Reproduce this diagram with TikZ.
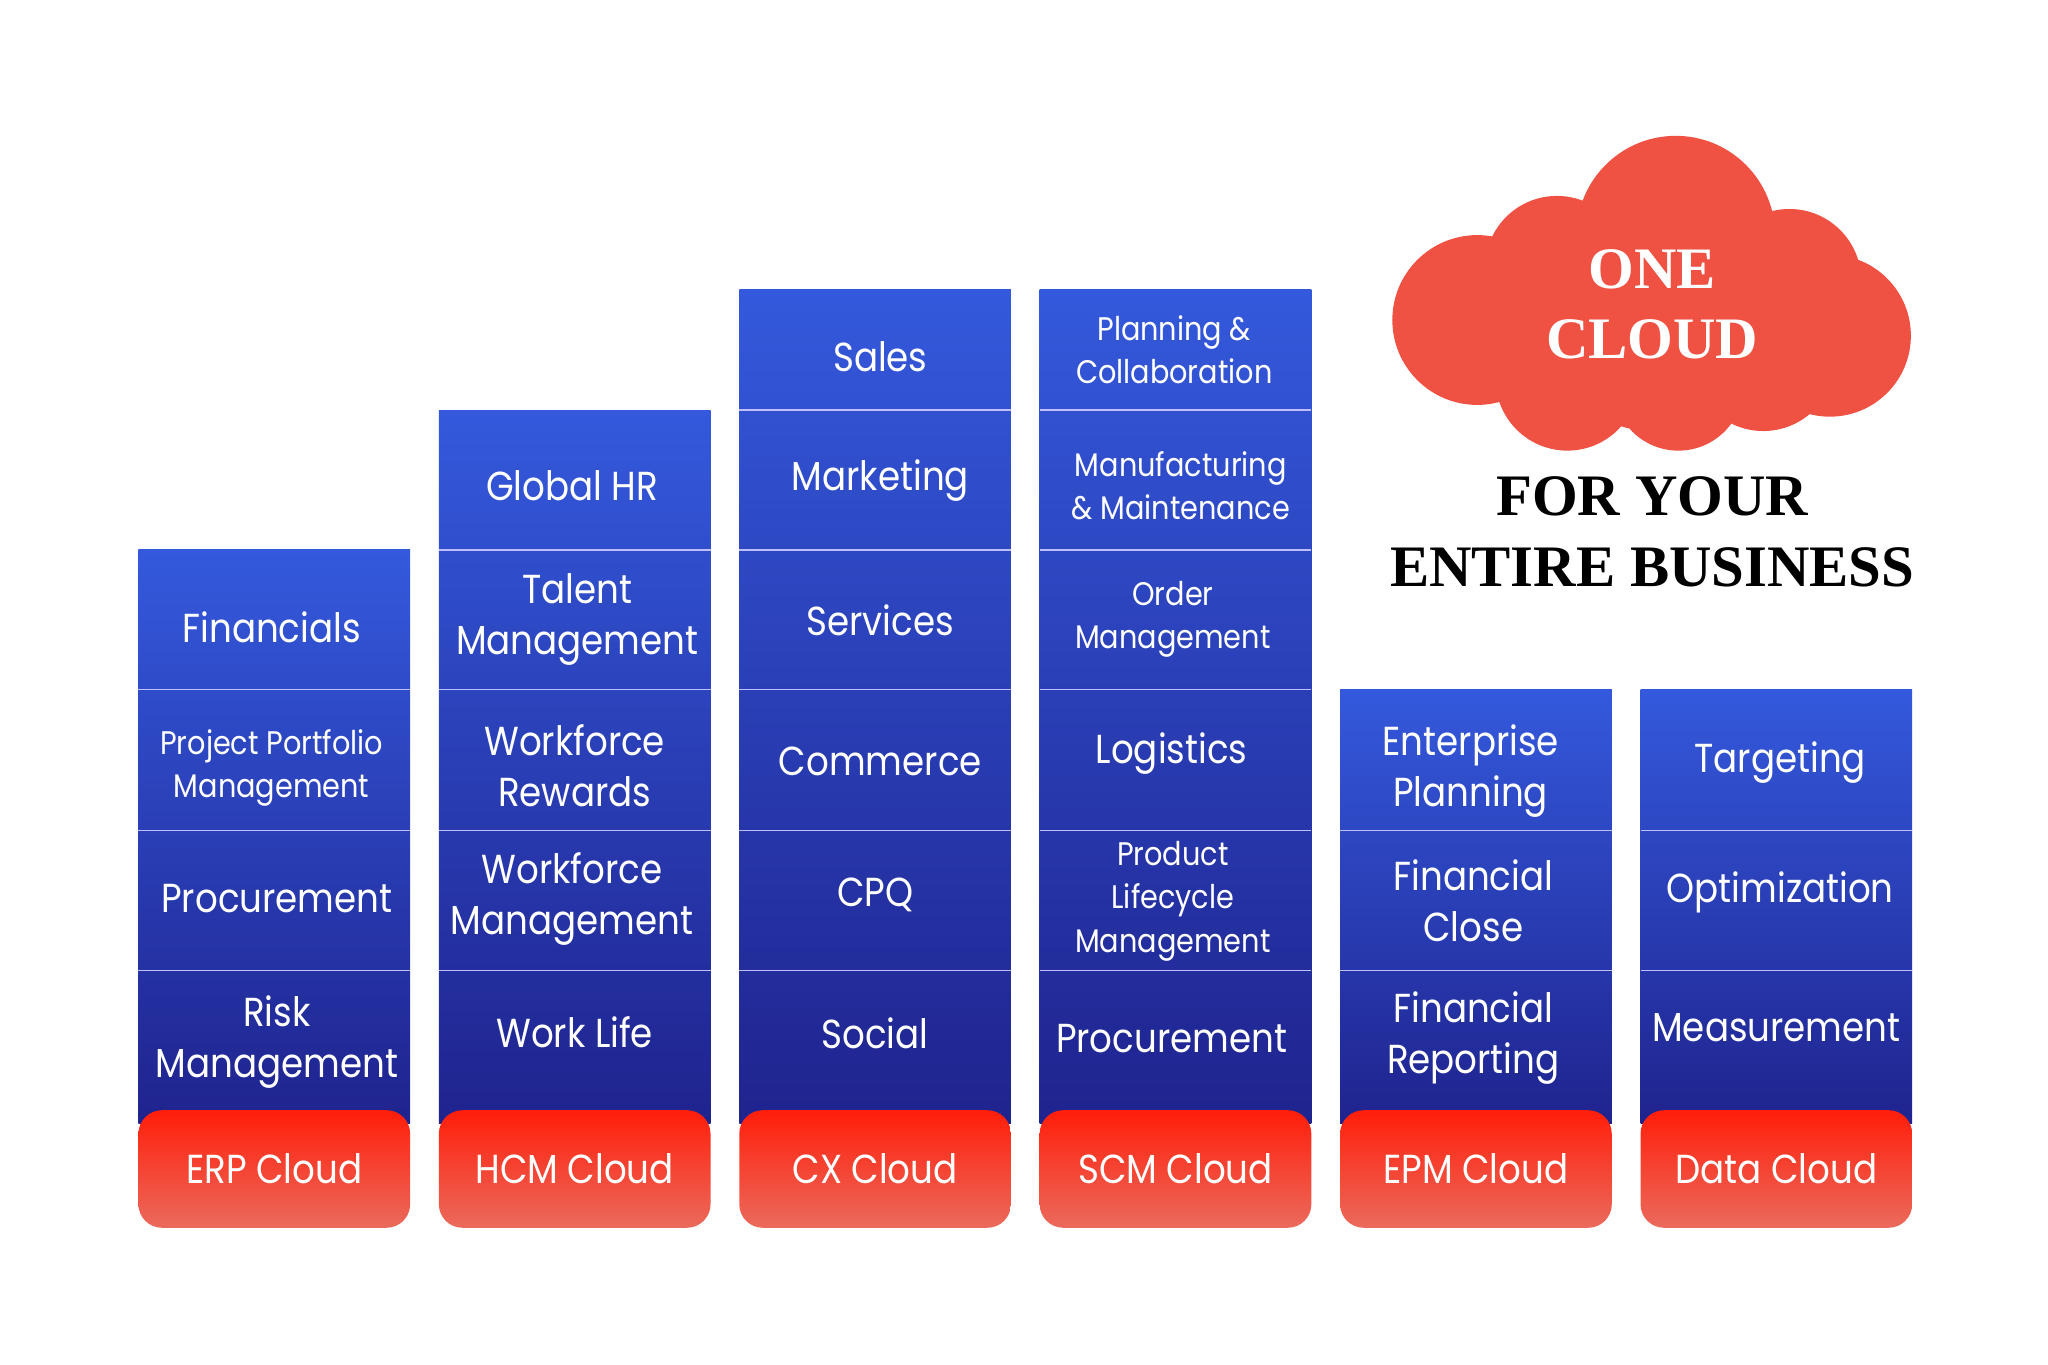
\documentclass[tikz,border=0pt]{standalone}
\usepackage{fontspec}
\setmainfont{Poppins}[FakeStretch=0.88]
\newfontfamily\serifb{Liberation Serif}
\definecolor{btop}{HTML}{3459DC}
\definecolor{bbot}{HTML}{1F238E}
\definecolor{rtop}{HTML}{FF1E0A}
\definecolor{rbot}{HTML}{EB6A5C}
\definecolor{cloudc}{HTML}{EF5143}
\begin{document}
\begin{tikzpicture}[x=0.5pt,y=-0.5pt,
  cell/.style={text=white,align=center,font=\fontsize{15.5}{19.5}\selectfont},
  small/.style={text=white,align=center,font=\fontsize{12.5}{16.5}\selectfont},
  foot/.style={text=white,font=\fontsize{15.5}{17}\selectfont},
  sep/.style={white!75!blue,line width=0.6pt},
  title/.style={align=center,font=\serifb\bfseries\fontsize{22.5}{27}\selectfont}]
\useasboundingbox (0,0) rectangle (1568,1045);
% columns
\foreach \x/\t/\n in {106/421/erp,336/314/hcm,566/222/cx,796/222/scm,1026/528/epm,1256/528/data}{
  \shade[top color=btop,bottom color=bbot] (\x,\t) rectangle (\x+208,860);
  \foreach \y in {314,421,528,636,743}{
    \ifnum\y>\t \draw[sep] (\x,\y) -- (\x+208,\y); \fi
  }
  \shade[top color=rtop,bottom color=rbot,rounded corners=9pt] (\x,850) rectangle (\x+208,940);
}
% footers
\node[foot] (f1) at (210,895) {ERP Cloud};
\node[foot] (f2) at (440,895) {HCM Cloud};
\node[foot] (f3) at (670,895) {CX Cloud};
\node[foot] (f4) at (900,895) {SCM Cloud};
\node[foot] (f5) at (1130,895) {EPM Cloud};
\node[foot] (f6) at (1360,895) {Data Cloud};
% ERP
\node[cell] (a1) at (208,480) {Financials};
\node[small] (a2) at (208,588) {Project Portfolio\\Management};
\node[cell] (a3) at (212,688) {Procurement};
\node[cell] (a4) at (212,798) {Risk\\Management};
% HCM
\node[cell] (b1) at (438,372) {Global HR};
\node[cell] (b2) at (442,474) {Talent\\Management};
\node[cell] (b3) at (440,586) {Workforce\\Rewards};
\node[cell] (b4) at (438,688) {Workforce\\Management};
\node[cell] (b5) at (440,790) {Work Life};
% CX
\node[cell] (c1) at (674,273) {Sales};
\node[cell] (c2) at (674,368) {Marketing};
\node[cell] (c3) at (674,475) {Services};
\node[cell] (c4) at (674,583) {Commerce};
\node[cell] (c5) at (670,685) {CPQ};
\node[cell] (c6) at (670,791) {Social};
% SCM
\node[small] (d1) at (899,268) {Planning \&\\Collaboration};
\node[small] (d2) at (904,372) {Manufacturing\\\& Maintenance};
\node[small] (d3) at (898,474) {Order\\Management};
\node[cell] (d4) at (897,577) {Logistics};
\node[small] (d5) at (898,690) {Product\\Lifecycle\\Management};
\node[cell] (d6) at (897,795) {Procurement};
% EPM
\node[cell] (e1) at (1126,590) {Enterprise\\Planning};
\node[cell] (e2) at (1128,690) {Financial\\Close};
\node[cell] (e3) at (1128,795) {Financial\\Reporting};
% Data
\node[cell] (g1) at (1363,584) {Targeting};
\node[cell] (g2) at (1363,683) {Optimization};
\node[cell] (g3) at (1360,787) {Measurement};
% cloud
\fill[cloudc] (1283,180) circle (76) (1192,205) circle (55) (1131,245) circle (65)
  (1370,215) circle (55) (1401,257) circle (62) (1200,290) circle (55)
  (1285,295) circle (50) (1350,275) circle (55) (1265,250) circle (80);
\node[title,text=white] (one) at (1265,233) {ONE\\CLOUD};
\node[title] (biz) at (1265,407) {FOR YOUR\\ENTIRE BUSINESS};
\end{tikzpicture}
\end{document}
